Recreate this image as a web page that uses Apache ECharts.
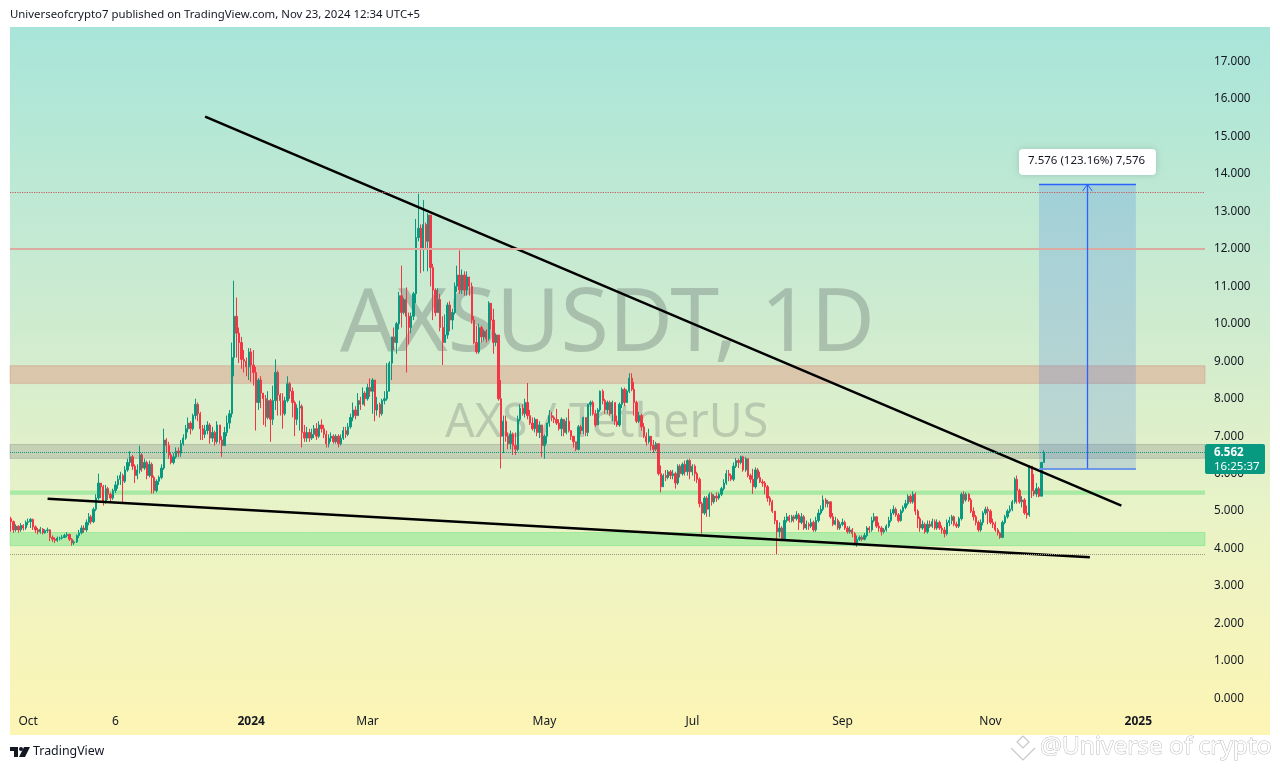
<!DOCTYPE html>
<html>
<head>
<meta charset="utf-8">
<title>AXSUSDT, 1D</title>
<style>
  html, body { margin: 0; padding: 0; background: #fff; }
  #chart { width: 1280px; height: 769px; }
</style>
<script src="https://cdn.jsdelivr.net/npm/echarts@6/dist/echarts.min.js"></script>
</head>
<body>
<div id="chart"></div>
<script>
// daily candles from 2023-09-24
const firstDay = '2023-09-24';
const firstOpen = 4.8;
const closes = [
  4.72,4.50,4.60,4.50,4.62,4.55,4.70,4.72,4.78,4.58,
  4.50,4.45,4.52,4.42,4.48,4.50,4.30,4.25,4.22,4.28,
  4.28,4.30,4.35,4.38,4.25,4.15,4.18,4.35,4.42,4.55,
  4.50,4.70,4.85,4.72,5.05,5.35,5.75,5.65,5.25,5.60,
  5.45,5.35,5.55,5.70,5.85,5.95,5.80,6.10,6.30,6.45,
  6.20,5.95,6.10,6.50,6.15,6.30,5.95,6.25,5.90,5.55,
  5.80,5.90,6.15,6.90,6.75,6.50,6.30,6.45,6.60,6.55,
  6.80,6.95,7.20,7.35,7.20,7.55,7.85,7.60,7.20,7.05,
  7.15,7.30,6.95,7.10,6.85,7.30,6.90,6.75,7.10,7.35,
  7.60,9.10,10.20,9.75,9.50,9.05,9.00,8.85,9.25,8.90,
  8.70,7.90,8.50,8.15,8.00,7.50,7.95,7.45,7.95,8.70,
  8.10,7.95,7.60,7.95,8.40,8.20,7.90,7.45,7.75,7.80,
  7.10,6.95,7.10,6.95,7.05,7.20,7.00,7.30,7.20,7.05,
  6.80,6.95,7.00,6.85,7.00,6.80,6.95,7.15,7.05,7.25,
  7.50,7.70,7.55,7.95,7.85,8.15,8.00,8.30,8.20,8.50,
  7.70,7.85,7.60,7.95,8.00,8.20,8.95,9.65,9.50,10.00,
  10.75,10.30,10.65,10.20,9.90,10.20,10.80,12.30,12.55,12.00,
  12.65,12.20,12.90,11.50,10.90,10.30,10.65,9.90,9.50,9.70,
  10.50,10.10,10.30,11.00,11.30,10.90,11.30,10.90,11.25,11.00,
  10.10,9.50,9.25,9.90,9.65,9.80,9.60,10.55,10.10,9.50,
  9.70,8.00,7.00,7.40,7.00,6.80,7.05,6.75,6.65,7.45,
  7.75,7.60,7.90,7.55,7.35,7.20,7.45,7.10,7.30,6.75,
  7.00,7.35,7.55,7.50,7.45,7.35,7.20,7.45,7.10,7.40,
  7.15,7.00,6.85,6.65,7.25,7.15,7.50,7.10,7.85,7.90,
  7.60,7.30,7.70,8.20,7.95,7.70,7.90,7.60,7.90,7.40,
  7.30,7.85,8.25,7.90,8.20,8.55,8.25,7.90,7.40,7.55,
  7.25,7.00,6.85,7.00,6.75,6.65,6.80,6.00,5.65,5.95,
  5.90,6.05,5.95,6.00,5.75,6.20,6.00,6.25,6.05,6.35,
  6.05,6.20,6.00,5.85,5.20,4.95,5.35,5.05,5.45,5.25,
  5.40,5.35,5.45,5.60,5.75,6.00,5.95,5.85,6.20,6.35,
  6.30,6.45,6.10,6.40,5.95,5.85,5.65,6.10,5.90,5.78,
  5.75,5.65,5.35,5.25,5.00,4.75,4.45,4.55,4.25,4.75,
  4.85,4.75,4.85,4.80,4.90,4.70,4.85,4.55,4.65,4.60,
  4.70,4.50,4.75,4.95,5.05,5.30,5.20,5.25,4.85,4.65,
  4.75,4.55,4.65,4.70,4.55,4.45,4.50,4.40,4.12,4.25,
  4.30,4.25,4.35,4.55,4.50,4.75,4.85,4.60,4.55,4.45,
  4.50,4.60,4.75,4.95,5.05,4.90,4.75,5.00,5.10,5.20,
  5.40,5.25,5.45,5.00,4.80,4.55,4.65,4.45,4.65,4.60,
  4.72,4.55,4.70,4.55,4.50,4.40,4.70,4.75,4.85,4.65,
  4.60,4.80,5.45,5.30,5.45,5.30,5.00,4.85,4.70,4.50,
  4.70,4.95,5.05,5.00,4.70,4.65,4.50,4.42,4.30,4.70,
  4.85,5.00,5.05,5.25,5.85,5.55,5.25,5.30,4.95,4.90,
  6.20,5.55,5.46,5.60,5.40,6.30,6.56
];
const highs = [
  4.85,4.75,4.65,4.62,4.68,4.65,4.75,4.80,4.82,4.80,
  4.62,4.55,4.58,4.55,4.52,4.56,4.52,4.35,4.30,4.32,
  4.32,4.36,4.40,4.44,4.40,4.28,4.22,4.38,4.50,4.62,
  4.62,4.78,4.95,4.90,5.10,5.45,6.00,5.75,5.70,5.70,
  5.65,5.50,5.60,5.80,5.95,6.05,6.00,6.20,6.40,6.60,
  6.50,6.25,6.25,6.75,6.55,6.40,6.35,6.35,6.30,5.95,
  5.85,5.95,6.25,7.20,6.95,6.85,6.55,6.55,6.70,6.70,
  6.90,7.05,7.30,7.50,7.40,7.60,8.00,7.90,7.65,7.30,
  7.30,7.40,7.35,7.25,7.15,7.40,7.30,7.00,7.25,7.55,
  7.70,9.50,11.15,10.70,9.90,9.65,9.30,9.10,9.35,9.35,
  9.30,8.85,8.55,8.60,8.15,8.10,8.20,8.00,8.35,9.05,
  8.75,8.15,8.15,8.05,8.60,8.45,8.30,7.95,7.85,7.95,
  7.85,7.30,7.25,7.20,7.20,7.30,7.35,7.40,7.45,7.30,
  7.15,7.05,7.10,7.05,7.05,7.05,7.05,7.25,7.25,7.35,
  7.60,7.90,7.80,8.15,8.05,8.30,8.20,8.40,8.54,8.55,
  8.50,8.05,7.90,8.00,8.20,8.95,9.00,9.65,9.90,10.05,
  10.85,11.55,10.70,10.97,10.30,10.30,10.85,12.80,13.47,12.65,
  13.30,12.70,12.95,12.00,11.60,10.95,10.95,10.80,10.20,10.25,
  10.57,10.60,10.40,11.10,11.55,11.96,11.45,11.40,11.40,11.10,
  11.10,10.20,9.95,10.00,9.95,9.85,9.85,10.60,10.55,10.40,
  9.75,9.55,8.50,7.55,7.55,7.10,7.15,7.10,7.10,7.55,
  7.85,7.85,8.00,8.42,7.70,7.50,7.50,7.45,7.40,7.15,
  7.05,7.35,7.70,7.65,7.55,7.73,7.45,7.50,7.45,7.50,
  7.73,7.15,7.00,6.85,7.30,7.30,7.52,7.50,7.86,7.95,
  7.95,7.70,7.75,8.22,8.25,8.00,7.95,7.95,7.95,7.90,
  7.55,7.90,8.30,8.30,8.25,8.68,8.68,8.45,7.95,7.65,
  7.60,7.35,7.10,7.20,7.00,6.90,6.85,6.80,6.22,6.00,
  6.10,6.10,6.10,6.10,6.05,6.25,6.25,6.30,6.35,6.38,
  6.40,6.25,6.25,6.05,5.90,5.25,5.40,5.40,5.50,5.50,
  5.45,5.50,5.50,5.65,5.85,6.10,6.10,6.00,6.30,6.42,
  6.40,6.48,6.48,6.45,6.40,6.00,6.13,6.17,6.15,6.05,
  5.85,5.80,5.70,5.40,5.30,5.00,4.75,4.70,4.60,4.85,
  4.95,4.90,4.90,4.90,5.00,4.95,4.95,4.90,4.75,4.70,
  4.80,4.75,4.85,5.05,5.15,5.42,5.35,5.30,5.25,4.95,
  4.85,4.80,4.72,4.80,4.75,4.60,4.60,4.55,4.45,4.35,
  4.35,4.35,4.42,4.60,4.60,4.85,4.95,4.85,4.70,4.60,
  4.55,4.65,4.85,5.05,5.15,5.10,4.95,5.05,5.15,5.30,
  5.45,5.45,5.53,5.50,5.05,4.85,4.75,4.70,4.75,4.75,
  4.80,4.78,4.78,4.75,4.62,4.58,4.78,4.85,4.90,4.88,
  4.72,4.85,5.50,5.53,5.50,5.48,5.35,5.10,4.90,4.75,
  4.78,5.00,5.12,5.12,5.05,4.80,4.72,4.55,4.45,4.75,
  4.90,5.05,5.15,5.30,5.90,5.95,5.60,5.40,5.35,5.15,
  6.22,6.20,5.99,5.75,5.65,6.30,6.62
];
const lows = [
  4.45,4.42,4.45,4.42,4.45,4.48,4.50,4.62,4.55,4.50,
  4.42,4.38,4.40,4.38,4.40,4.42,4.20,4.18,4.15,4.18,
  4.22,4.24,4.28,4.30,4.20,4.08,4.10,4.15,4.28,4.38,
  4.42,4.45,4.62,4.65,4.68,5.00,5.30,5.35,5.15,5.20,
  5.30,5.25,5.30,5.48,5.60,5.70,5.20,5.75,6.05,6.20,
  6.10,5.75,5.85,6.00,6.05,6.10,5.85,5.90,5.47,5.47,
  5.50,5.70,5.85,6.10,6.55,6.40,6.25,6.25,6.40,6.45,
  6.45,6.75,6.90,7.10,7.05,7.15,7.45,7.40,6.90,6.90,
  6.95,7.05,6.80,6.85,6.75,6.80,6.80,6.45,6.75,7.00,
  7.20,7.50,8.60,9.10,8.95,8.80,8.70,8.60,8.50,8.45,
  8.35,7.15,7.70,7.75,7.30,7.25,7.45,6.85,7.30,7.70,
  7.55,7.55,7.20,7.55,7.90,8.00,7.50,7.00,7.30,7.15,
  6.70,6.85,6.85,6.85,6.90,6.95,6.90,6.95,7.10,6.95,
  6.70,6.70,6.85,6.80,6.80,6.70,6.75,6.90,6.95,7.00,
  7.20,7.40,7.45,7.55,7.70,7.85,7.80,7.95,8.05,7.60,
  7.40,7.55,7.50,7.55,7.85,7.95,8.25,8.50,9.30,9.20,
  9.85,9.90,10.25,8.70,9.45,9.75,10.10,10.55,12.20,11.35,
  11.40,12.00,11.40,11.00,10.10,10.20,10.30,9.80,8.90,9.50,
  9.60,9.80,9.85,10.25,10.85,10.80,10.80,10.75,10.75,10.75,
  10.00,9.45,9.20,9.20,9.50,9.55,9.50,9.55,9.85,9.20,
  9.40,7.95,6.14,6.55,6.85,6.65,6.65,6.50,6.50,6.60,
  7.40,7.55,7.50,7.45,7.30,7.15,7.10,7.00,6.95,6.45,
  6.40,6.80,7.25,7.40,7.35,7.30,7.15,7.00,7.00,7.05,
  7.10,6.90,6.70,6.60,6.62,7.05,7.05,7.00,7.00,7.55,
  7.55,7.25,7.30,7.65,7.85,7.60,7.60,7.55,7.40,7.30,
  7.25,7.25,7.75,7.80,7.90,8.15,8.20,7.55,7.35,7.35,
  7.15,6.95,6.75,6.80,6.62,6.55,6.60,5.95,5.50,5.65,
  5.80,5.85,5.85,5.85,5.60,5.70,5.90,5.95,5.95,5.95,
  5.85,5.95,5.80,5.75,5.10,4.40,4.90,4.85,4.85,5.15,
  5.20,5.25,5.30,5.40,5.55,5.70,5.80,5.80,5.80,6.15,
  6.15,6.25,6.05,6.05,5.90,5.75,5.46,5.60,5.85,5.75,
  5.65,5.45,5.25,5.15,4.95,4.65,3.84,4.30,4.20,4.25,
  4.70,4.70,4.70,4.70,4.75,4.50,4.65,4.50,4.50,4.50,
  4.55,4.45,4.45,4.70,4.90,5.00,5.10,5.10,4.80,4.60,
  4.62,4.50,4.50,4.60,4.50,4.40,4.40,4.30,4.08,4.05,
  4.20,4.20,4.22,4.30,4.42,4.45,4.70,4.55,4.45,4.35,
  4.40,4.45,4.55,4.70,4.90,4.85,4.70,4.72,4.95,5.05,
  5.15,5.20,5.20,4.90,4.55,4.45,4.50,4.40,4.40,4.55,
  4.55,4.50,4.50,4.50,4.40,4.30,4.35,4.60,4.65,4.60,
  4.55,4.55,4.75,5.20,5.25,5.25,4.95,4.75,4.62,4.45,
  4.45,4.62,4.90,4.65,4.65,4.55,4.45,4.35,4.26,4.28,
  4.65,4.80,4.95,5.00,5.20,5.20,5.20,5.10,4.90,4.80,
  4.85,5.35,5.40,5.38,5.37,5.40,6.30
];

// category axis runs on past the last candle, up to here
const dayCount = 493;

// time axis labels, the date each one sits on
const tickDates = ['2023-10-01', '2023-11-06', '2024-01-01', '2024-02-18', '2024-05-01', '2024-07-01', '2024-09-01', '2024-11-01', '2025-01-01'];
const tickLabels = ['Oct', '6', '2024', 'Mar', 'May', 'Jul', 'Sep', 'Nov', '2025'];
const boldTicks = ['2024', '2025'];

// drawn trend lines
const fallingLineDates = ['2023-12-13', '2024-12-25'];
const fallingLineValues = [15.53, 5.15];
const floorLineDates = ['2023-10-09', '2024-12-12'];
const floorLineValues = [5.33, 3.77];

// horizontal zones
const redZone = [8.41, 8.88];
const greyZone = [6.41, 6.78];
const upperGreenZone = [5.44, 5.55];
const lowerGreenZone = [4.08, 4.43];
const topDotted = 13.5;
const pinkLevel = 12.0;
const lastPrice = 6.562;
const bottomDotted = 3.84;

// long position tool
const positionDates = ['2024-11-21', '2024-12-31'];
const positionValues = [6.14, 13.72];
const arrowDate = '2024-12-11';
const arrowHeadDates = ['2024-12-09', '2024-12-11', '2024-12-13'];
const arrowHeadValues = [13.54, 13.72, 13.54];

function dayString(i) {
  const d = new Date(Date.parse(firstDay + 'T00:00:00Z') + i * 86400000);
  return d.toISOString().slice(0, 10);
}

const days = [];
for (let i = 0; i < dayCount; i++) days.push(dayString(i));

// 24/7 market, each candle opens on the previous close
const candles = closes.map((c, i) => {
  const o = i === 0 ? firstOpen : closes[i - 1];
  return [o, c, Math.min(o, c, lows[i]), Math.max(o, c, highs[i])];
});

const chart = echarts.init(document.getElementById('chart'));

const font = '"Noto Sans", sans-serif';

const option = {
  animation: false,
  backgroundColor: '#ffffff',
  grid: { left: 10, right: 75, top: 24, bottom: 33 },
  xAxis: {
    type: 'category',
    data: days,
    boundaryGap: true,
    axisLine: { show: false },
    axisTick: { show: false },
    splitLine: { show: false },
    axisLabel: {
      inside: true,
      margin: 8,
      interval: (i, v) => tickDates.includes(v),
      color: '#131722',
      fontFamily: font,
      fontSize: 12,
      formatter: v => {
        const t = tickLabels[tickDates.indexOf(v)];
        return boldTicks.includes(t) ? '{b|' + t + '}' : t;
      },
      rich: { b: { fontWeight: 'bold', fontSize: 12, fontFamily: font, color: '#131722' } }
    }
  },
  yAxis: {
    type: 'value',
    position: 'right',
    min: -1,
    max: 18,
    interval: 1,
    scale: false,
    axisLine: { show: false },
    axisTick: { show: false },
    splitLine: { show: false },
    axisLabel: {
      margin: 9,
      padding: [2, 0, 0, 0],
      color: '#131722',
      fontFamily: font,
      fontSize: 11.7,
      formatter: v => (v < 0 || v > 17) ? '' : v.toFixed(3)
    }
  },
  graphic: [
    {
      type: 'rect', z: -10, silent: true,
      shape: { x: 10, y: 27, width: 1260, height: 708 },
      style: {
        fill: {
          type: 'linear', x: 0, y: 0, x2: 0, y2: 1,
          colorStops: [
            { offset: 0, color: '#a8e5d9' },
            { offset: 0.4, color: '#cdebd0' },
            { offset: 0.7, color: '#eaf3c6' },
            { offset: 1, color: '#fdf5b4' }
          ]
        }
      }
    },
    {
      type: 'text', z: -5, silent: true, x: 340, y: 282,
      style: { text: 'AXSUSDT, 1D', fontFamily: font, fontSize: 88, fill: 'rgba(90,100,100,0.32)' }
    },
    {
      type: 'text', z: -5, silent: true, x: 445, y: 400,
      style: { text: 'AXS / TetherUS', fontFamily: font, fontSize: 46.5, fill: 'rgba(90,100,100,0.27)' }
    },
    {
      type: 'text', x: 10, y: 9,
      style: { text: 'Universeofcrypto7 published on TradingView.com, Nov 23, 2024 12:34 UTC+5', fontFamily: font, fontSize: 11.4, fill: '#131722' }
    },
    { type: 'polygon', z: 5, shape: { points: [[10, 747], [18, 747], [18, 757], [14, 757], [14, 751], [10, 751]] }, style: { fill: '#131722' } },
    { type: 'circle', z: 5, shape: { cx: 21, cy: 749, r: 2 }, style: { fill: '#131722' } },
    { type: 'polygon', z: 5, shape: { points: [[24, 747], [30, 747], [25, 757], [19, 757]] }, style: { fill: '#131722' } },
    {
      type: 'text', x: 33, y: 745,
      style: { text: 'TradingView', fontFamily: font, fontSize: 12.4, fill: '#131722' }
    },
    { type: 'polyline', z: 5, shape: { points: [[1023, 736], [1029, 742], [1023, 748], [1017, 742], [1023, 736]] }, style: { fill: 'none', stroke: '#c8c8c8', lineWidth: 1.2 } },
    { type: 'polyline', z: 5, shape: { points: [[1011, 748], [1023, 760], [1035, 748]] }, style: { fill: 'none', stroke: '#c8c8c8', lineWidth: 1.2 } },
    {
      type: 'text', z: 5, x: 1040, y: 735,
      style: { text: '@Universe of crypto', fontFamily: font, fontSize: 24.4, fill: '#ffffff', stroke: '#bdbdbd', lineWidth: 1 }
    },
    {
      type: 'rect', z: 100,
      shape: { x: 1019, y: 149, width: 137, height: 26, r: 4 },
      style: { fill: '#ffffff', shadowBlur: 6, shadowColor: 'rgba(0,0,0,0.15)' }
    },
    {
      type: 'text', z: 101, x: 1028, y: 155,
      style: { text: '7.576 (123.16%) 7,576', fontFamily: font, fontSize: 11.5, fill: '#131722' }
    },
    {
      type: 'rect', z: 100,
      shape: { x: 1205, y: 444, width: 60, height: 30, r: 2 },
      style: { fill: '#089981' }
    },
    {
      type: 'text', z: 101, x: 1214, y: 447,
      style: { text: lastPrice.toFixed(3), fontFamily: font, fontSize: 11.5, fontWeight: 'bold', fill: '#ffffff' }
    },
    {
      type: 'text', z: 101, x: 1214, y: 461,
      style: { text: '16:25:37', fontFamily: font, fontSize: 11.5, fill: '#ffffff' }
    }
  ],
  series: [
    {
      name: 'zones',
      type: 'line',
      data: [],
      z: 1,
      silent: true,
      markArea: {
        silent: true,
        data: [
          [{ yAxis: redZone[0], itemStyle: { color: 'rgba(228,130,110,0.36)', borderColor: 'rgba(200,110,100,0.3)', borderWidth: 1 } }, { yAxis: redZone[1] }],
          [{ yAxis: greyZone[0], itemStyle: { color: 'rgba(110,115,120,0.25)', borderColor: 'rgba(110,115,120,0.3)', borderWidth: 1 } }, { yAxis: greyZone[1] }],
          [{ yAxis: upperGreenZone[0], itemStyle: { color: 'rgba(90,225,120,0.45)' } }, { yAxis: upperGreenZone[1] }],
          [{ yAxis: lowerGreenZone[0], itemStyle: { color: 'rgba(90,225,120,0.38)', borderColor: 'rgba(90,225,120,0.4)', borderWidth: 1 } }, { yAxis: lowerGreenZone[1] }],
          [
            { coord: [positionDates[0], positionValues[0]], itemStyle: { color: 'rgba(55,115,235,0.20)' } },
            { coord: [positionDates[1], positionValues[1]] }
          ]
        ]
      },
      markLine: {
        silent: true,
        symbol: 'none',
        label: { show: false },
        data: [
          { yAxis: topDotted, lineStyle: { color: '#c25f5f', type: 'dotted', width: 1.2 } },
          { yAxis: pinkLevel, lineStyle: { color: '#dcaaa0', type: 'solid', width: 2 } },
          { yAxis: lastPrice, lineStyle: { color: '#089981', type: 'dotted', width: 1 } },
          { yAxis: bottomDotted, lineStyle: { color: '#9a9a80', type: 'dotted', width: 1 } },
          [
            { coord: [positionDates[0], positionValues[1]], lineStyle: { color: '#2962ff', type: 'solid', width: 1.3 } },
            { coord: [positionDates[1], positionValues[1]] }
          ],
          [
            { coord: [positionDates[0], positionValues[0]], lineStyle: { color: '#6e96e6', type: 'solid', width: 2 } },
            { coord: [positionDates[1], positionValues[0]] }
          ],
          [
            { coord: [arrowDate, positionValues[0]], lineStyle: { color: '#2962ff', type: 'solid', width: 1.3 } },
            { coord: [arrowDate, positionValues[1]] }
          ]
        ]
      }
    },
    {
      name: 'AXSUSDT',
      type: 'candlestick',
      data: candles,
      z: 3,
      barWidth: 1.8,
      itemStyle: {
        color: '#089981',
        color0: '#f23645',
        borderColor: '#089981',
        borderColor0: '#f23645',
        borderWidth: 1
      }
    },
    {
      name: 'falling line',
      type: 'line',
      data: fallingLineDates.map((d, i) => [d, fallingLineValues[i]]),
      z: 4,
      showSymbol: false,
      lineStyle: { color: '#000000', width: 2.5 }
    },
    {
      name: 'floor line',
      type: 'line',
      data: floorLineDates.map((d, i) => [d, floorLineValues[i]]),
      z: 4,
      showSymbol: false,
      lineStyle: { color: '#000000', width: 2.5 }
    },
    {
      name: 'arrow head',
      type: 'line',
      data: arrowHeadDates.map((d, i) => [d, arrowHeadValues[i]]),
      z: 4,
      showSymbol: false,
      lineStyle: { color: '#2962ff', width: 1 }
    }
  ]
};

chart.setOption(option);
</script>
</body>
</html>
